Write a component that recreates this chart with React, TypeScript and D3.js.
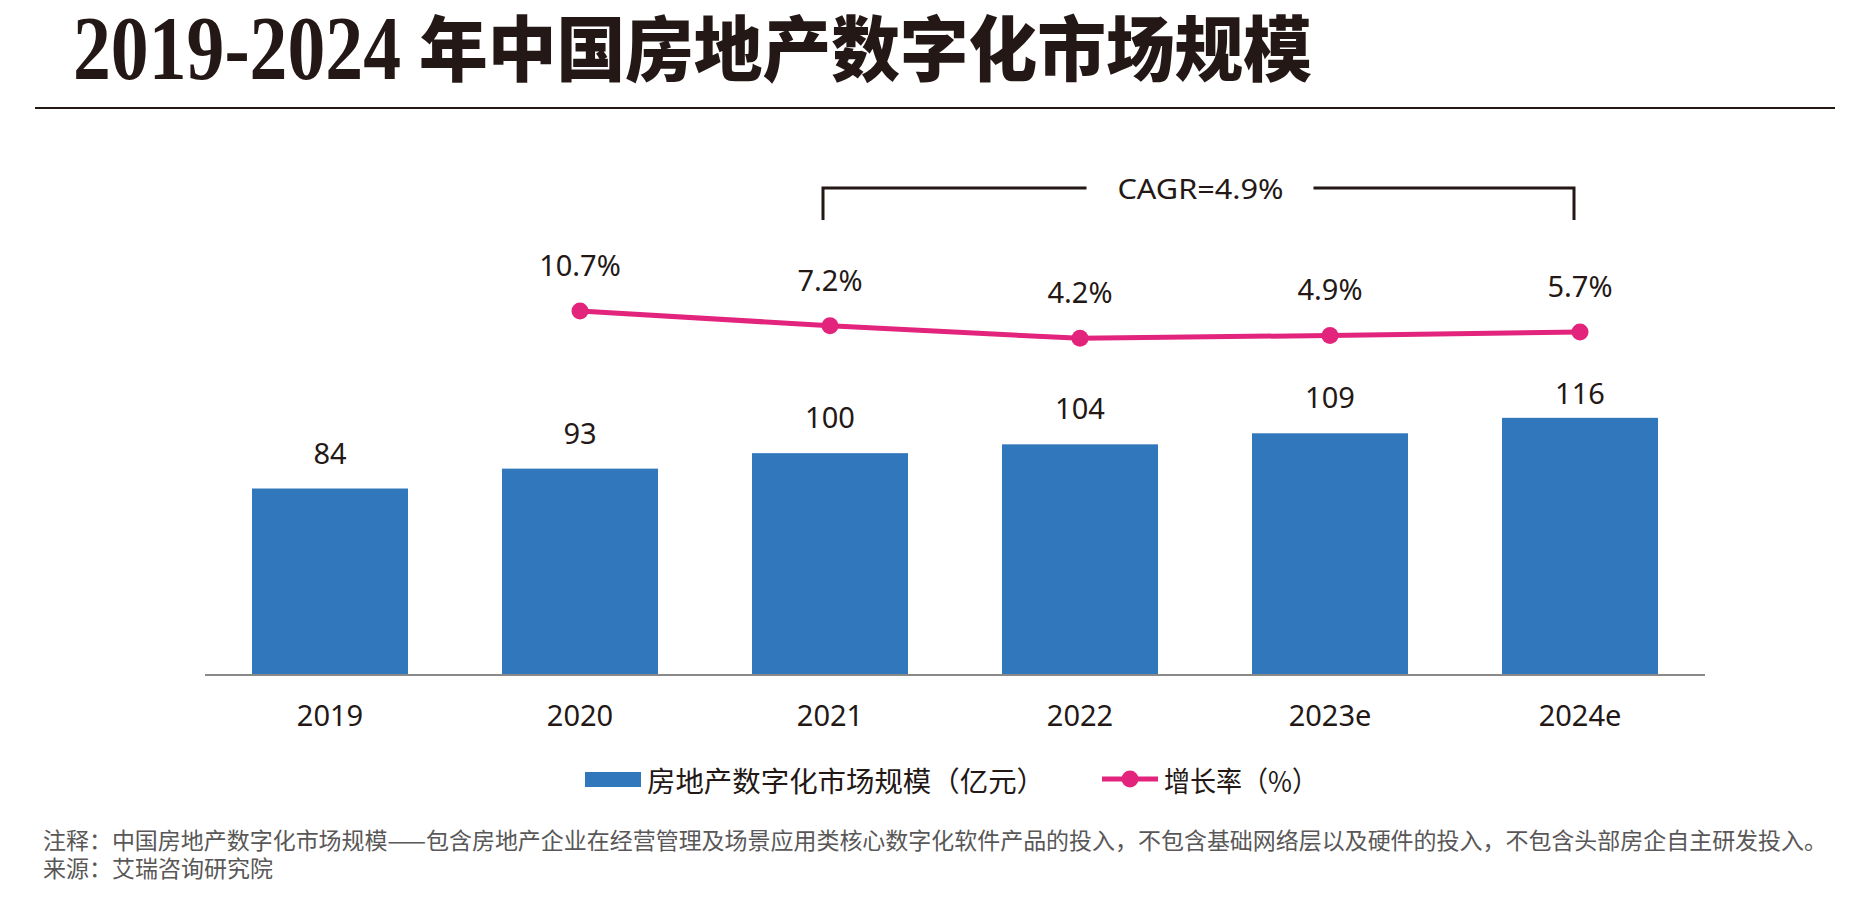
import * as d3 from "d3";

const years = ["2019", "2020", "2021", "2022", "2023e", "2024e"];
const marketSize = [84, 93, 100, 104, 109, 116];
const growthYears = ["2020", "2021", "2022", "2023e", "2024e"];
const growthRate = [10.7, 7.2, 4.2, 4.9, 5.7];

const TITLE_NUM = "2019-2024";
const TITLE_CN = "年中国房地产数字化市场规模";
const CAGR_LABEL = "CAGR=4.9%";
const LEGEND_BAR = "房地产数字化市场规模（亿元）";
const LEGEND_LINE = "增长率（%）";
const NOTE =
  "注释：中国房地产数字化市场规模——包含房地产企业在经营管理及场景应用类核心数字化软件产品的投入，不包含基础网络层以及硬件的投入，不包含头部房企自主研发投入。";
const SOURCE = "来源：艾瑞咨询研究院";

const BLUE = "#3077bb";
const PINK = "#e2247d";
const INK = "#231815";
const NUM_FONT = "'Noto Sans', 'Open Sans', sans-serif";
const CN_FONT = "'Noto Sans CJK SC', sans-serif";

const W = 1862;
const H = 907;

export default function App() {
  const x = d3
    .scaleBand<string>()
    .domain(years)
    .range([205, 1705])
    .paddingInner(0.376)
    .paddingOuter(0.188);

  const yBar = d3.scaleLinear().domain([0, 120]).range([674, 409]);
  const yLine = d3.scaleLinear().domain([0, 12]).range([356, 305.6]);

  const cx = (d: string) => (x(d) ?? 0) + x.bandwidth() / 2;

  const growth = growthYears.map((d, i) => ({ year: d, v: growthRate[i] }));
  const line = d3
    .line<{ year: string; v: number }>()
    .x((d) => cx(d.year))
    .y((d) => yLine(d.v));

  // CAGR bracket spans 2021 -> 2024e
  const bL = cx("2021") - 7;
  const bR = cx("2024e") - 6;
  const bTop = 188;
  const bBot = 220;
  const bMid = (bL + bR) / 2 + 2;

  // the last value label sits a little closer to its bar in the original
  const labelGap = (i: number) => (i === years.length - 1 ? 14 : 25);

  return (
    <svg
      width={W}
      height={H}
      style={{ position: "absolute", left: 0, top: 0, display: "block", background: "#fff" }}
    >
      {/* title */}
      <text
        x={73}
        y={79}
        fontFamily="'Liberation Serif', serif"
        fontWeight={700}
        fontSize={90}
        fill={INK}
        textLength={328}
        lengthAdjust="spacingAndGlyphs"
      >
        {TITLE_NUM}
      </text>
      <text
        x={419}
        y={75}
        fontFamily={CN_FONT}
        fontWeight={900}
        fontSize={71}
        fill={INK}
        textLength={893}
        lengthAdjust="spacingAndGlyphs"
      >
        {TITLE_CN}
      </text>
      <line x1={35} x2={1835} y1={108} y2={108} stroke={INK} strokeWidth={2} />

      {/* CAGR bracket */}
      <path
        d={`M${bL},${bBot}V${bTop}H${bMid - 114}M${bMid + 113},${bTop}H${bR}V${bBot}`}
        fill="none"
        stroke={INK}
        strokeWidth={3}
      />
      <text
        x={bMid}
        y={bTop}
        textAnchor="middle"
        dominantBaseline="central"
        fontFamily={NUM_FONT}
        fontSize={28}
        fill={INK}
        textLength={166}
        lengthAdjust="spacingAndGlyphs"
      >
        {CAGR_LABEL}
      </text>

      {/* bars */}
      {years.map((d, i) => (
        <g key={d}>
          <rect
            x={x(d)}
            y={yBar(marketSize[i])}
            width={x.bandwidth()}
            height={yBar(0) - yBar(marketSize[i])}
            fill={BLUE}
          />
          <text
            x={cx(d)}
            y={yBar(marketSize[i]) - labelGap(i)}
            textAnchor="middle"
            fontFamily={NUM_FONT}
            fontSize={29}
            fill={INK}
          >
            {marketSize[i]}
          </text>
          <text
            x={cx(d)}
            y={726}
            textAnchor="middle"
            fontFamily={NUM_FONT}
            fontSize={29}
            fill={INK}
          >
            {d}
          </text>
        </g>
      ))}
      <line x1={205} x2={1705} y1={675} y2={675} stroke="#898989" strokeWidth={2} />

      {/* growth line */}
      <path d={line(growth) ?? ""} fill="none" stroke={PINK} strokeWidth={5} />
      {growth.map((d) => (
        <g key={d.year}>
          <circle cx={cx(d.year)} cy={yLine(d.v)} r={8.5} fill={PINK} />
          <text
            x={cx(d.year)}
            y={yLine(d.v) - 35}
            textAnchor="middle"
            fontFamily={NUM_FONT}
            fontSize={29}
            fill={INK}
          >
            {d.v.toFixed(1)}%
          </text>
        </g>
      ))}

      {/* legend */}
      <rect x={585} y={772} width={56} height={15} fill={BLUE} />
      <text
        x={647}
        y={780}
        dominantBaseline="central"
        fontFamily={CN_FONT}
        fontSize={28}
        fill={INK}
        textLength={398}
        lengthAdjust="spacingAndGlyphs"
      >
        {LEGEND_BAR}
      </text>
      <line x1={1102} x2={1158} y1={779} y2={779} stroke={PINK} strokeWidth={5} />
      <circle cx={1130} cy={779} r={8.5} fill={PINK} />
      <text
        x={1164}
        y={780}
        dominantBaseline="central"
        fontFamily={CN_FONT}
        fontSize={28}
        fill={INK}
        textLength={154}
        lengthAdjust="spacingAndGlyphs"
      >
        {LEGEND_LINE}
      </text>

      {/* notes */}
      <text
        x={43}
        y={849}
        fontFamily={CN_FONT}
        fontSize={23}
        fill="#595757"
        textLength={1784}
        lengthAdjust="spacingAndGlyphs"
      >
        {NOTE}
      </text>
      <text x={43} y={877} fontFamily={CN_FONT} fontSize={23} fill="#595757">
        {SOURCE}
      </text>
    </svg>
  );
}
